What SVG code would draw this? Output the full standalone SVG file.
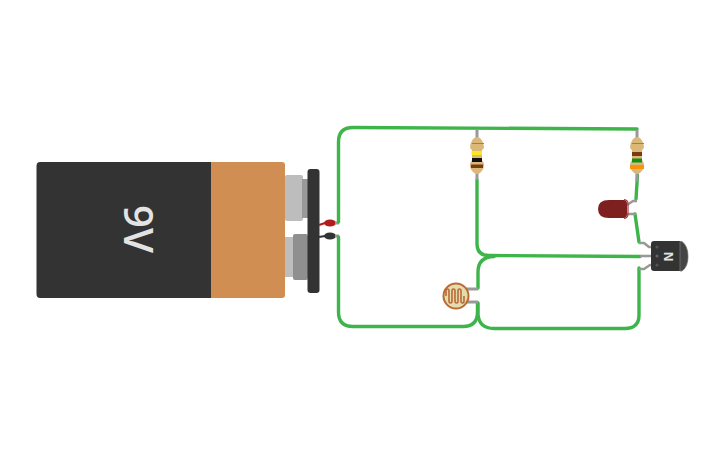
<svg xmlns="http://www.w3.org/2000/svg" width="725" height="453" viewBox="0 0 725 453">
<style>
.w{fill:none;stroke:#3db54a;stroke-width:3.400;stroke-linecap:round;stroke-linejoin:round}
.l{fill:none;stroke:#999;stroke-width:2.600;stroke-linejoin:round}
.lg{fill:none;stroke:#999;stroke-width:3}
.body{fill:#dcb878}
</style>
<rect width="725" height="453" fill="#fff"/>
<g id="battery">
<rect x="285" y="175" width="18" height="46" rx="2" fill="#bdbdbd"/>
<rect x="302" y="179" width="6" height="39" fill="#999"/>
<rect x="285" y="237" width="9" height="40" fill="#bdbdbd"/>
<rect x="293" y="234" width="15" height="46" rx="2" fill="#8f8f8f"/>
<path d="M40 162H211V298H40Q36.500 298 36.500 294V166Q36.500 162 40 162Z" fill="#333"/>
<path d="M211 162H282a3 3 0 0 1 3 3V295a3 3 0 0 1-3 3H211Z" fill="#d18e53"/>
<rect x="307.500" y="169" width="12" height="124" rx="3" fill="#333"/>
<text transform="translate(124,229) rotate(90)" text-anchor="middle" font-family="Open Sans, Liberation Sans, sans-serif" font-size="40" font-weight="600" fill="#e3e3e3">9V</text>
<path d="M319 225L325 223" stroke="#b21c1c" stroke-width="2" fill="none"/>
<ellipse cx="330" cy="223" rx="6" ry="3.500" fill="#b21c1c"/>
<path d="M319 237L325 236" stroke="#333" stroke-width="2" fill="none"/>
<ellipse cx="330" cy="236" rx="6" ry="3.500" fill="#333"/>
<path d="M335 223H339M335 236H339" stroke="#999" stroke-width="3" fill="none"/>
</g>
<g id="connectors">
<path class="w" d="M338.500 222V142Q338.500 127.500 353 127.500L637 129"/>
<path class="w" d="M338.500 237V312Q338.500 326.500 353 326.500H463Q477.500 326.500 477.500 312V303"/>
<path class="w" d="M477 180V244Q477 255.500 489 255.500L640 256.500"/>
<path class="w" d="M494 256.500Q478 257 478 272V288"/>
<path class="w" d="M478 303V314Q479 328.500 494 328.500H625Q639 328.500 639 315V268"/>
<path class="w" d="M637.500 175L636 199"/>
<path class="w" d="M635 214L639 242"/>
</g>
<g id="resistor1">
<path class="lg" d="M477 130V138M477 172V180"/>
<path class="body" d="M473 139Q477 135 481 139Q484 143 484 147Q484 149 482 150V160Q484 162 484 166Q484 169 481 172Q477 176 473 172Q470 169 470 166Q470 162 472 160V150Q470 149 470 147Q470 143 473 139Z"/>
<rect x="472" y="143" width="12" height="1" fill="#8b8b5a"/>
<rect x="471.500" y="151" width="10.500" height="4" fill="#fce61e"/>
<rect x="472" y="158" width="10" height="4" fill="#111"/>
<rect x="471" y="164.500" width="12" height="3.500" fill="#7a3b12"/>
</g>
<g id="resistor2">
<path class="lg" d="M637 130V138M637 172V181"/>
<path class="body" d="M633 139Q637 135 641 139Q644 143 644 147Q644 149 642 150V160Q644 162 644 166Q644 169 641 172Q637 176 633 172Q630 169 630 166Q630 162 632 160V150Q630 149 630 147Q630 143 633 139Z"/>
<rect x="632" y="143" width="12" height="1" fill="#8b8b5a"/>
<rect x="632" y="152" width="10" height="4" fill="#7a3b12"/>
<rect x="632" y="158.500" width="10" height="4" fill="#129012"/>
<rect x="630" y="165" width="14" height="4" fill="#f7930e"/>
</g>
<g id="led">
<path class="l" d="M627 205L633 201H637M627 214H636"/>
<path d="M609 200H624Q627 200 627 204V214Q627 218 624 218H609Q598 218 598 209Q598 200 609 200Z" fill="#7f2020"/>
<path d="M624 199.500Q628 200 628 204V214Q628 218 624 218.500" fill="none" stroke="#a33b3b" stroke-width="1.200"/>
</g>
<g id="transistor">
<path class="l" d="M639 243H644L649 247H654M640 256H654M639 269H644L650 265H654"/>
<path d="M654 241H680Q688 246 688 256.500Q688 267 680 271H654Q651 271 651 268V244Q651 241 654 241Z" fill="#333"/>
<path d="M680 241.500H682Q688 246 688 256.500Q688 267 682 271H680V241.500Z" fill="#444" stroke="#777" stroke-width=".8"/>
<circle cx="657" cy="247" r="1.500" fill="#555"/>
<circle cx="657" cy="256" r="1.500" fill="#666"/>
<circle cx="657" cy="265" r="1.500" fill="#555"/>
<text transform="translate(664,256.500) rotate(90)" text-anchor="middle" font-family="Open Sans, Liberation Sans, sans-serif" font-size="12" font-weight="700" fill="#e3e3e3">N</text>
</g>
<g id="photoresistor">
<path class="lg" d="M465 289H478M465 302H478"/>
<circle cx="456" cy="296" r="12.500" fill="#e3dcae" stroke="#bc6a35" stroke-width="2"/>
<path d="M446 296V291Q446 289 447.500 289Q449 289 449 291V301Q449 303 450.500 303Q452 303 452 301V291Q452 289 453.500 289Q455 289 455 291V301Q455 303 456.500 303Q458 303 458 301V291Q458 289 459.500 289Q461 289 461 291V301Q461 303 462.500 303Q464 303 464 301V296" fill="none" stroke="#bc6a35" stroke-width="1.600"/>
</g>
</svg>
